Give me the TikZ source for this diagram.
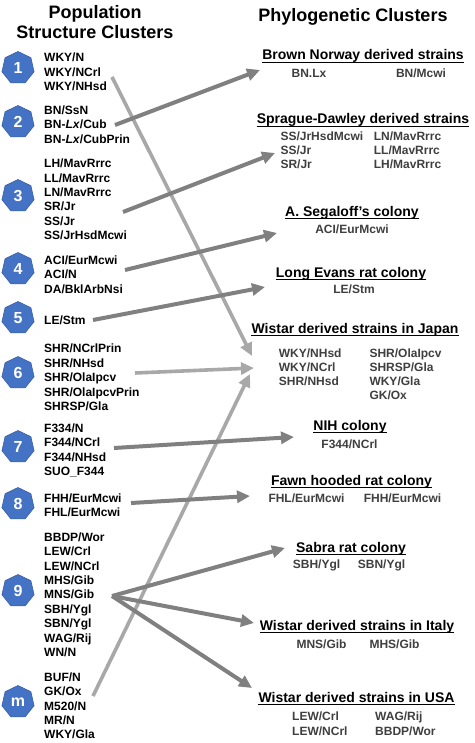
\documentclass[tikz,border=0pt]{standalone}
\usepackage{fontspec}
\setmainfont{Liberation Sans}
\usetikzlibrary{shapes.geometric,arrows.meta}
\definecolor{badgeblue}{HTML}{4472C4}
\definecolor{darkarrow}{HTML}{808080}
\definecolor{lightarrow}{HTML}{A8A8A8}
\definecolor{membergray}{HTML}{3F3F3F}
\begin{document}
\begin{tikzpicture}[x=1pt,y=-1pt,
  badge/.style={regular polygon, regular polygon sides=7, minimum size=33pt, inner sep=0pt,
    fill=badgeblue, draw=badgeblue!85!black, line width=0.6pt, text=white,
    font=\bfseries\fontsize{16}{16}\selectfont},
  strain/.style={anchor=base west, inner sep=0pt, font=\bfseries\fontsize{12}{14}\selectfont},
  member/.style={strain, text=membergray},
  heading/.style={anchor=base, inner sep=0pt, font=\bfseries\fontsize{14}{16}\selectfont},
  bigtitle/.style={anchor=base, inner sep=0pt, font=\bfseries\fontsize{18}{20}\selectfont},
  darrow/.style={draw=darkarrow, line width=4pt, -{Triangle[length=13pt,width=12pt]}},
  larrow/.style={draw=lightarrow, line width=3.6pt, -{Triangle[length=13pt,width=12pt]}},
]
\useasboundingbox[fill=white] (0,0) rectangle (474,743);

% titles
\node[bigtitle] (t1) at (95,18.5) {Population};
\node[bigtitle] (t2) at (95,38.5) {Structure Clusters};
\node[bigtitle] (t3) at (353,21.5) {Phylogenetic Clusters};

% arrow end points
\coordinate (s1) at (112,77);   \coordinate (e1) at (252,356);
\coordinate (s2) at (115,125);  \coordinate (e2) at (260,70);
\coordinate (s3) at (123,212);  \coordinate (e3) at (275,153);
\coordinate (s4) at (125,270);  \coordinate (e4) at (277,233);
\coordinate (s5) at (93,320);   \coordinate (e5) at (265,287);
\coordinate (s6) at (135,373);  \coordinate (e6) at (254,368);
\coordinate (s7) at (114,448);  \coordinate (e7) at (294,437);
\coordinate (s8) at (131,503);  \coordinate (e8) at (250,496);
\coordinate (s9) at (112,596);
\coordinate (e9a) at (285,548); \coordinate (e9b) at (254,623); \coordinate (e9c) at (252,688);
\coordinate (sm) at (93,696);   \coordinate (em) at (250,374);

% light arrows
\draw[larrow] (s1) -- (e1);
\draw[larrow] (s6) -- (e6);
\draw[larrow] (sm) -- (em);
% dark arrows
\draw[darrow] (s2) -- (e2);
\draw[darrow] (s3) -- (e3);
\draw[darrow] (s4) -- (e4);
\draw[darrow] (s5) -- (e5);
\draw[darrow] (s7) -- (e7);
\draw[darrow] (s8) -- (e8);
\draw[darrow] (s9) -- (e9a);
\draw[darrow] (s9) -- (e9b);
\draw[darrow] (s9) -- (e9c);

% badges
\node[badge] (b1) at (18,68) {1};
\node[badge] (b2) at (18,122) {2};
\node[badge] (b3) at (18,196) {3};
\node[badge] (b4) at (18,269) {4};
\node[badge] (b5) at (18,318) {5};
\node[badge] (b6) at (18,373) {6};
\node[badge] (b7) at (18,447) {7};
\node[badge] (b8) at (18,504) {8};
\node[badge] (b9) at (18,591) {9};
\node[badge] (bm) at (18,702) {m};

% population structure clusters
\foreach \s [count=\i] in {{WKY/N},{WKY/NCrl},{WKY/NHsd}}
  \node[strain] (pa\i) at (44,{62+14.4*(\i-1)}) {\s};
\foreach \s [count=\i] in {{BN/SsN},{BN-\textit{Lx}/Cub},{BN-\textit{Lx}/CubPrin}}
  \node[strain] (pb\i) at (44,{114.3+14.4*(\i-1)}) {\s};
\foreach \s [count=\i] in {{LH/MavRrrc},{LL/MavRrrc},{LN/MavRrrc},{SR/Jr},{SS/Jr},{SS/JrHsdMcwi}}
  \node[strain] (pc\i) at (44,{167.8+14.4*(\i-1)}) {\s};
\foreach \s [count=\i] in {{ACI/EurMcwi},{ACI/N},{DA/BklArbNsi}}
  \node[strain] (pd\i) at (44,{264.3+14.4*(\i-1)}) {\s};
\node[strain] (pe1) at (44,324.3) {LE/Stm};
\foreach \s [count=\i] in {{SHR/NCrlPrin},{SHR/NHsd},{SHR/OlaIpcv},{SHR/OlaIpcvPrin},{SHRSP/Gla}}
  \node[strain] (pf\i) at (44,{352.8+14.4*(\i-1)}) {\s};
\foreach \s [count=\i] in {{F334/N},{F344/NCrl},{F344/NHsd},{SUO\_F344}}
  \node[strain] (pg\i) at (44,{432.3+14.4*(\i-1)}) {\s};
\foreach \s [count=\i] in {{FHH/EurMcwi},{FHL/EurMcwi}}
  \node[strain] (ph\i) at (44,{502.3+14.4*(\i-1)}) {\s};
\foreach \s [count=\i] in {{BBDP/Wor},{LEW/Crl},{LEW/NCrl},{MHS/Gib},{MNS/Gib},{SBH/Ygl},{SBN/Ygl},{WAG/Rij},{WN/N}}
  \node[strain] (pi\i) at (44,{541.3+14.4*(\i-1)}) {\s};
\foreach \s [count=\i] in {{BUF/N},{GK/Ox},{M520/N},{MR/N},{WKY/Gla}}
  \node[strain] (pm\i) at (44,{681.3+14.4*(\i-1)}) {\s};

% phylogenetic headings
\node[heading] (h1) at (363,60) {Brown Norway derived strains};
\node[heading] (h2) at (363,123.5) {Sprague-Dawley derived strains};
\node[heading] (h3) at (352,216) {A. Segaloff’s colony};
\node[heading] (h4) at (351,277) {Long Evans rat colony};
\node[heading] (h5) at (355,333) {Wistar derived strains in Japan};
\node[heading] (h6) at (350,430) {NIH colony};
\node[heading] (h7) at (351.5,485) {Fawn hooded rat colony};
\node[heading] (h8) at (351,552) {Sabra rat colony};
\node[heading] (h9) at (357,630) {Wistar derived strains in Italy};
\node[heading] (h10) at (356.5,702) {Wistar derived strains in USA};
\foreach \h in {h1,h2,h3,h4,h5,h6,h7,h8,h9,h10}
  \draw[line width=1.3pt] ([yshift=-2.8pt]\h.base west) -- ([yshift=-2.8pt]\h.base east);

% members
\node[member, anchor=base] (m1a) at (309,78) {BN.Lx};
\node[member, anchor=base] (m1b) at (421,78) {BN/Mcwi};
\foreach \s [count=\i] in {{SS/JrHsdMcwi},{SS/Jr},{SR/Jr}}
  \node[member] (m2a\i) at (280.3,{141+14*(\i-1)}) {\s};
\foreach \s [count=\i] in {{LN/MavRrrc},{LL/MavRrrc},{LH/MavRrrc}}
  \node[member] (m2b\i) at (373.7,{141+14*(\i-1)}) {\s};
\node[member, anchor=base] (m3) at (352,233.5) {ACI/EurMcwi};
\node[member, anchor=base] (m4) at (354,293.5) {LE/Stm};
\foreach \s [count=\i] in {{WKY/NHsd},{WKY/NCrl},{SHR/NHsd}}
  \node[member] (m5a\i) at (278.7,{357+14.2*(\i-1)}) {\s};
\foreach \s [count=\i] in {{SHR/OlaIpcv},{SHRSP/Gla},{WKY/Gla},{GK/Ox}}
  \node[member] (m5b\i) at (369.3,{357+14.2*(\i-1)}) {\s};
\node[member, anchor=base] (m6) at (349.5,448) {F344/NCrl};
\node[member, anchor=base] (m7a) at (306.5,502.5) {FHL/EurMcwi};
\node[member, anchor=base] (m7b) at (402.5,502.5) {FHH/EurMcwi};
\node[member, anchor=base] (m8a) at (316.5,568.5) {SBH/Ygl};
\node[member, anchor=base] (m8b) at (381.5,568.5) {SBN/Ygl};
\node[member, anchor=base] (m9a) at (321.5,648) {MNS/Gib};
\node[member, anchor=base] (m9b) at (394.5,648) {MHS/Gib};
\node[member] (m10a1) at (292,720.5) {LEW/Crl};
\node[member] (m10a2) at (292,735) {LEW/NCrl};
\node[member] (m10b1) at (375,720.5) {WAG/Rij};
\node[member] (m10b2) at (375,735) {BBDP/Wor};
\end{tikzpicture}
\end{document}
